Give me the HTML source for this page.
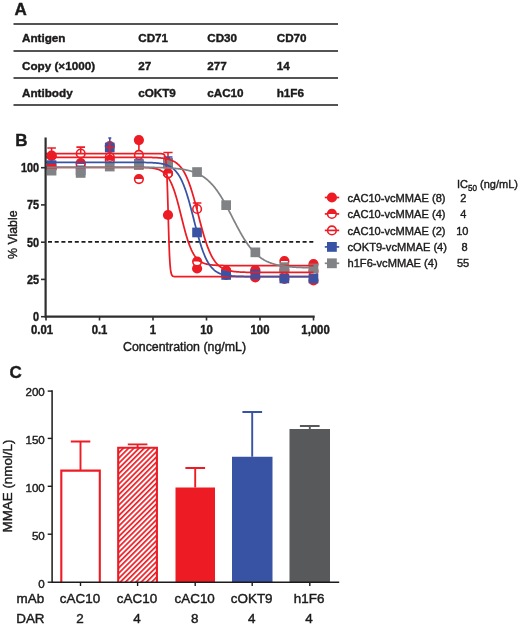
<!DOCTYPE html><html><head><meta charset="utf-8"><title>Figure</title><style>html,body{margin:0;padding:0;background:#fff}svg{display:block}text{font-family:"Liberation Sans",Arial,Helvetica,sans-serif;fill:#1c1a1b}.b{font-weight:bold;stroke:#1c1a1b;stroke-width:.4px}.r{stroke:#1c1a1b;stroke-width:.4px}</style></head><body>
<svg width="520" height="626" viewBox="0 0 520 626">
<rect width="520" height="626" fill="#fff"/>
<defs><pattern id="h" width="3.7" height="3.7" patternUnits="userSpaceOnUse" patternTransform="rotate(-45)"><rect width="3.7" height="3.7" fill="#fff"/><rect y="0" width="3.7" height="1.7" fill="#ED1C24"/></pattern></defs>
<text class="b" x="14.5" y="14.7" font-size="17">A</text>
<line x1="13.5" x2="338" y1="24" y2="24" stroke="#1c1a1b" stroke-width="1.7"/>
<line x1="13.5" x2="338" y1="51" y2="51" stroke="#1c1a1b" stroke-width="1.6"/>
<line x1="13.5" x2="338" y1="78" y2="78" stroke="#1c1a1b" stroke-width="1.6"/>
<line x1="13.5" x2="338" y1="105" y2="105" stroke="#1c1a1b" stroke-width="1.7"/>
<text class="b" x="22" y="42" font-size="11.7">Antigen</text>
<text class="b" x="138.2" y="42" font-size="11.7">CD71</text>
<text class="b" x="207.2" y="42" font-size="11.7">CD30</text>
<text class="b" x="276.7" y="42" font-size="11.7">CD70</text>
<text class="b" x="22" y="69.5" font-size="11.7">Copy (×1000)</text>
<text class="b" x="138.2" y="69.5" font-size="11.7">27</text>
<text class="b" x="207.2" y="69.5" font-size="11.7">277</text>
<text class="b" x="276.7" y="69.5" font-size="11.7">14</text>
<text class="b" x="22" y="96.5" font-size="11.7">Antibody</text>
<text class="b" x="138.2" y="96.5" font-size="11.7">cOKT9</text>
<text class="b" x="207.2" y="96.5" font-size="11.7">cAC10</text>
<text class="b" x="276.7" y="96.5" font-size="11.7">h1F6</text>
<text class="b" x="15.2" y="146.2" font-size="17">B</text>
<line x1="48" x2="314" y1="241.9" y2="241.9" stroke="#1c1a1b" stroke-width="1.8" stroke-dasharray="4 2.7"/>
<circle cx="51.6" cy="155.5" r="5.1" fill="#ED1C24"/>
<circle cx="80.7" cy="163.0" r="5.1" fill="#ED1C24"/>
<circle cx="109.8" cy="146.0" r="5.1" fill="#ED1C24"/>
<circle cx="138.9" cy="140.1" r="5.1" fill="#ED1C24"/>
<circle cx="168.0" cy="215.0" r="5.1" fill="#ED1C24"/>
<circle cx="197.1" cy="268.5" r="5.1" fill="#ED1C24"/>
<circle cx="226.2" cy="275.0" r="5.1" fill="#ED1C24"/>
<circle cx="255.3" cy="277.5" r="5.1" fill="#ED1C24"/>
<circle cx="284.4" cy="279.0" r="5.1" fill="#ED1C24"/>
<circle cx="313.5" cy="280.4" r="5.1" fill="#ED1C24"/>
<circle cx="51.6" cy="168.3" r="4.3" fill="#fff" stroke="#ED1C24" stroke-width="1.6"/>
<path d="M47.3,168.3 a4.3,4.3 0 0 1 8.6,0 z" fill="#ED1C24"/>
<circle cx="80.7" cy="164.0" r="4.3" fill="#fff" stroke="#ED1C24" stroke-width="1.6"/>
<path d="M76.4,164.0 a4.3,4.3 0 0 1 8.6,0 z" fill="#ED1C24"/>
<circle cx="109.8" cy="159.9" r="4.3" fill="#fff" stroke="#ED1C24" stroke-width="1.6"/>
<path d="M105.5,159.9 a4.3,4.3 0 0 1 8.6,0 z" fill="#ED1C24"/>
<circle cx="138.9" cy="179.1" r="4.3" fill="#fff" stroke="#ED1C24" stroke-width="1.6"/>
<path d="M134.6,179.1 a4.3,4.3 0 0 1 8.6,0 z" fill="#ED1C24"/>
<circle cx="168.0" cy="173.4" r="4.3" fill="#fff" stroke="#ED1C24" stroke-width="1.6"/>
<path d="M163.7,173.4 a4.3,4.3 0 0 1 8.6,0 z" fill="#ED1C24"/>
<circle cx="197.1" cy="261.6" r="4.3" fill="#fff" stroke="#ED1C24" stroke-width="1.6"/>
<path d="M192.8,261.6 a4.3,4.3 0 0 1 8.6,0 z" fill="#ED1C24"/>
<circle cx="226.2" cy="270.5" r="4.3" fill="#fff" stroke="#ED1C24" stroke-width="1.6"/>
<path d="M221.9,270.5 a4.3,4.3 0 0 1 8.6,0 z" fill="#ED1C24"/>
<circle cx="255.3" cy="270.0" r="4.3" fill="#fff" stroke="#ED1C24" stroke-width="1.6"/>
<path d="M251.0,270.0 a4.3,4.3 0 0 1 8.6,0 z" fill="#ED1C24"/>
<circle cx="284.4" cy="261.0" r="4.3" fill="#fff" stroke="#ED1C24" stroke-width="1.6"/>
<path d="M280.1,261.0 a4.3,4.3 0 0 1 8.6,0 z" fill="#ED1C24"/>
<circle cx="313.5" cy="264.0" r="4.3" fill="#fff" stroke="#ED1C24" stroke-width="1.6"/>
<path d="M309.2,264.0 a4.3,4.3 0 0 1 8.6,0 z" fill="#ED1C24"/>
<circle cx="51.6" cy="156.0" r="4.3" fill="none" stroke="#ED1C24" stroke-width="1.6"/>
<circle cx="80.7" cy="153.5" r="4.3" fill="none" stroke="#ED1C24" stroke-width="1.6"/>
<circle cx="109.8" cy="157.0" r="4.3" fill="none" stroke="#ED1C24" stroke-width="1.6"/>
<circle cx="138.9" cy="154.9" r="4.3" fill="none" stroke="#ED1C24" stroke-width="1.6"/>
<circle cx="168.0" cy="173.4" r="4.3" fill="none" stroke="#ED1C24" stroke-width="1.6"/>
<circle cx="197.1" cy="209.0" r="4.3" fill="none" stroke="#ED1C24" stroke-width="1.6"/>
<circle cx="226.2" cy="271.0" r="4.3" fill="none" stroke="#ED1C24" stroke-width="1.6"/>
<circle cx="255.3" cy="272.0" r="4.3" fill="none" stroke="#ED1C24" stroke-width="1.6"/>
<circle cx="284.4" cy="270.0" r="4.3" fill="none" stroke="#ED1C24" stroke-width="1.6"/>
<circle cx="313.5" cy="271.0" r="4.3" fill="none" stroke="#ED1C24" stroke-width="1.6"/>
<path d="M109.8,147.5 V138.0 M108.3,138.0 H111.3" stroke="#3953A4" stroke-width="1.6" fill="none"/>
<path d="M168.0,163.0 V157.0 M163.5,157.0 H172.5" stroke="#3953A4" stroke-width="1.6" fill="none"/>
<rect x="46.7" y="160.3" width="9.7" height="9.7" fill="#3953A4"/>
<rect x="75.8" y="165.5" width="9.7" height="9.7" fill="#3953A4"/>
<rect x="104.9" y="142.7" width="9.7" height="9.7" fill="#3953A4"/>
<rect x="134.0" y="159.2" width="9.7" height="9.7" fill="#3953A4"/>
<rect x="163.2" y="158.2" width="9.7" height="9.7" fill="#3953A4"/>
<rect x="192.2" y="227.6" width="9.7" height="9.7" fill="#3953A4"/>
<rect x="221.3" y="270.1" width="9.7" height="9.7" fill="#3953A4"/>
<rect x="250.5" y="269.6" width="9.7" height="9.7" fill="#3953A4"/>
<rect x="279.5" y="273.6" width="9.7" height="9.7" fill="#3953A4"/>
<rect x="308.6" y="273.6" width="9.7" height="9.7" fill="#3953A4"/>
<rect x="46.7" y="165.8" width="9.7" height="9.7" fill="#808285"/>
<rect x="75.8" y="168.1" width="9.7" height="9.7" fill="#808285"/>
<rect x="104.9" y="161.7" width="9.7" height="9.7" fill="#808285"/>
<rect x="134.0" y="160.2" width="9.7" height="9.7" fill="#808285"/>
<rect x="163.2" y="158.8" width="9.7" height="9.7" fill="#808285"/>
<rect x="192.2" y="167.2" width="9.7" height="9.7" fill="#808285"/>
<rect x="221.3" y="200.3" width="9.7" height="9.7" fill="#808285"/>
<rect x="250.5" y="247.5" width="9.7" height="9.7" fill="#808285"/>
<rect x="279.5" y="262.3" width="9.7" height="9.7" fill="#808285"/>
<rect x="308.6" y="263.6" width="9.7" height="9.7" fill="#808285"/>
<rect x="46.9" y="163.8" width="9.4" height="4.6" fill="#ED1C24"/>
<path d="M51.6,155.5 V148.0 M47.3,148.0 H55.9" stroke="#ED1C24" stroke-width="1.6" fill="none"/>
<path d="M80.7,153.5 V147.1 M76.4,147.1 H85.0" stroke="#ED1C24" stroke-width="1.6" fill="none"/>
<path d="M197.1,209.0 V203.0 M192.8,203.0 H201.4" stroke="#ED1C24" stroke-width="1.6" fill="none"/>
<path d="M168.0,158.0 V152.5 M163.4,152.5 H172.6" stroke="#ED1C24" stroke-width="1.6" fill="none"/>
<line x1="138.9" x2="138.9" y1="145" y2="151" stroke="#ED1C24" stroke-width="1.6"/>
<path d="M109.8,143 V157 M105.5,147.5 H114.1" stroke="#ED1C24" stroke-width="1.6" fill="none"/>
<line x1="168.0" x2="168.0" y1="157" y2="159.5" stroke="#3953A4" stroke-width="4"/>
<polyline fill="none" stroke="#ED1C24" stroke-width="1.75" stroke-linejoin="round" points="46.0,153.69 46.5,153.69 47.0,153.69 47.5,153.69 48.0,153.69 48.5,153.69 49.0,153.69 49.5,153.69 50.0,153.69 50.5,153.69 51.0,153.69 51.5,153.69 52.0,153.69 52.5,153.69 53.0,153.69 53.5,153.69 54.0,153.69 54.5,153.69 55.0,153.69 55.5,153.69 56.0,153.69 56.5,153.69 57.0,153.69 57.5,153.69 58.0,153.69 58.5,153.69 59.0,153.69 59.5,153.69 60.0,153.69 60.5,153.69 61.0,153.69 61.5,153.69 62.0,153.69 62.5,153.69 63.0,153.69 63.5,153.69 64.0,153.69 64.5,153.69 65.0,153.69 65.5,153.69 66.0,153.69 66.5,153.69 67.0,153.69 67.5,153.69 68.0,153.69 68.5,153.69 69.0,153.69 69.5,153.69 70.0,153.69 70.5,153.69 71.0,153.69 71.5,153.69 72.0,153.69 72.5,153.69 73.0,153.69 73.5,153.69 74.0,153.69 74.5,153.69 75.0,153.69 75.5,153.69 76.0,153.69 76.5,153.69 77.0,153.69 77.5,153.69 78.0,153.69 78.5,153.69 79.0,153.69 79.5,153.69 80.0,153.69 80.5,153.69 81.0,153.69 81.5,153.69 82.0,153.69 82.5,153.69 83.0,153.69 83.5,153.69 84.0,153.69 84.5,153.69 85.0,153.69 85.5,153.69 86.0,153.69 86.5,153.69 87.0,153.69 87.5,153.69 88.0,153.69 88.5,153.69 89.0,153.69 89.5,153.69 90.0,153.69 90.5,153.69 91.0,153.69 91.5,153.69 92.0,153.69 92.5,153.69 93.0,153.69 93.5,153.69 94.0,153.69 94.5,153.69 95.0,153.69 95.5,153.69 96.0,153.69 96.5,153.69 97.0,153.69 97.5,153.69 98.0,153.69 98.5,153.69 99.0,153.69 99.5,153.69 100.0,153.69 100.5,153.69 101.0,153.69 101.5,153.69 102.0,153.69 102.5,153.69 103.0,153.69 103.5,153.69 104.0,153.69 104.5,153.69 105.0,153.69 105.5,153.69 106.0,153.69 106.5,153.69 107.0,153.69 107.5,153.69 108.0,153.69 108.5,153.69 109.0,153.69 109.5,153.69 110.0,153.69 110.5,153.69 111.0,153.69 111.5,153.69 112.0,153.69 112.5,153.69 113.0,153.69 113.5,153.69 114.0,153.69 114.5,153.69 115.0,153.69 115.5,153.69 116.0,153.69 116.5,153.69 117.0,153.69 117.5,153.69 118.0,153.69 118.5,153.69 119.0,153.69 119.5,153.69 120.0,153.69 120.5,153.69 121.0,153.69 121.5,153.69 122.0,153.69 122.5,153.69 123.0,153.69 123.5,153.69 124.0,153.69 124.5,153.69 125.0,153.69 125.5,153.69 126.0,153.69 126.5,153.69 127.0,153.69 127.5,153.69 128.0,153.69 128.5,153.69 129.0,153.69 129.5,153.69 130.0,153.69 130.5,153.69 131.0,153.69 131.5,153.69 132.0,153.69 132.5,153.69 133.0,153.69 133.5,153.69 134.0,153.69 134.5,153.69 135.0,153.69 135.5,153.69 136.0,153.69 136.5,153.69 137.0,153.69 137.5,153.69 138.0,153.69 138.5,153.69 139.0,153.69 139.5,153.69 140.0,153.69 140.5,153.69 141.0,153.69 141.5,153.69 142.0,153.69 142.5,153.69 143.0,153.69 143.5,153.69 144.0,153.69 144.5,153.69 145.0,153.69 145.5,153.69 146.0,153.69 146.5,153.69 147.0,153.69 147.5,153.69 148.0,153.69 148.5,153.69 149.0,153.69 149.5,153.69 150.0,153.69 150.5,153.69 151.0,153.69 151.5,153.69 152.0,153.69 152.5,153.69 153.0,153.69 153.5,153.69 154.0,153.69 154.5,153.69 155.0,153.69 155.5,153.69 156.0,153.69 156.5,153.69 157.0,153.69 157.5,153.69 158.0,153.69 158.5,153.70 159.0,153.70 159.5,153.70 160.0,153.70 160.5,153.71 161.0,153.71 161.5,153.73 162.0,153.76 162.5,153.82 163.0,153.93 163.5,154.12 164.0,154.47 164.5,155.10 165.0,156.24 165.5,158.27 166.0,161.80 166.5,167.73 167.0,177.12 167.5,190.67 168.0,207.79 168.5,226.15 169.0,242.68 169.5,255.39 170.0,264.01 170.5,269.38 171.0,272.55 171.5,274.36 172.0,275.37 172.5,275.93 173.0,276.24 173.5,276.41 174.0,276.51 174.5,276.56 175.0,276.59 175.5,276.60 176.0,276.61 176.5,276.61 177.0,276.62 177.5,276.62 178.0,276.62 178.5,276.62 179.0,276.62 179.5,276.62 180.0,276.62 180.5,276.62 181.0,276.62 181.5,276.62 182.0,276.62 182.5,276.62 183.0,276.62 183.5,276.62 184.0,276.62 184.5,276.62 185.0,276.62 185.5,276.62 186.0,276.62 186.5,276.62 187.0,276.62 187.5,276.62 188.0,276.62 188.5,276.62 189.0,276.62 189.5,276.62 190.0,276.62 190.5,276.62 191.0,276.62 191.5,276.62 192.0,276.62 192.5,276.62 193.0,276.62 193.5,276.62 194.0,276.62 194.5,276.62 195.0,276.62 195.5,276.62 196.0,276.62 196.5,276.62 197.0,276.62 197.5,276.62 198.0,276.62 198.5,276.62 199.0,276.62 199.5,276.62 200.0,276.62 200.5,276.62 201.0,276.62 201.5,276.62 202.0,276.62 202.5,276.62 203.0,276.62 203.5,276.62 204.0,276.62 204.5,276.62 205.0,276.62 205.5,276.62 206.0,276.62 206.5,276.62 207.0,276.62 207.5,276.62 208.0,276.62 208.5,276.62 209.0,276.62 209.5,276.62 210.0,276.62 210.5,276.62 211.0,276.62 211.5,276.62 212.0,276.62 212.5,276.62 213.0,276.62 213.5,276.62 214.0,276.62 214.5,276.62 215.0,276.62 215.5,276.62 216.0,276.62 216.5,276.62 217.0,276.62 217.5,276.62 218.0,276.62 218.5,276.62 219.0,276.62 219.5,276.62 220.0,276.62 220.5,276.62 221.0,276.62 221.5,276.62 222.0,276.62 222.5,276.62 223.0,276.62 223.5,276.62 224.0,276.62 224.5,276.62 225.0,276.62 225.5,276.62 226.0,276.62 226.5,276.62 227.0,276.62 227.5,276.62 228.0,276.62 228.5,276.62 229.0,276.62 229.5,276.62 230.0,276.62 230.5,276.62 231.0,276.62 231.5,276.62 232.0,276.62 232.5,276.62 233.0,276.62 233.5,276.62 234.0,276.62 234.5,276.62 235.0,276.62 235.5,276.62 236.0,276.62 236.5,276.62 237.0,276.62 237.5,276.62 238.0,276.62 238.5,276.62 239.0,276.62 239.5,276.62 240.0,276.62 240.5,276.62 241.0,276.62 241.5,276.62 242.0,276.62 242.5,276.62 243.0,276.62 243.5,276.62 244.0,276.62 244.5,276.62 245.0,276.62 245.5,276.62 246.0,276.62 246.5,276.62 247.0,276.62 247.5,276.62 248.0,276.62 248.5,276.62 249.0,276.62 249.5,276.62 250.0,276.62 250.5,276.62 251.0,276.62 251.5,276.62 252.0,276.62 252.5,276.62 253.0,276.62 253.5,276.62 254.0,276.62 254.5,276.62 255.0,276.62 255.5,276.62 256.0,276.62 256.5,276.62 257.0,276.62 257.5,276.62 258.0,276.62 258.5,276.62 259.0,276.62 259.5,276.62 260.0,276.62 260.5,276.62 261.0,276.62 261.5,276.62 262.0,276.62 262.5,276.62 263.0,276.62 263.5,276.62 264.0,276.62 264.5,276.62 265.0,276.62 265.5,276.62 266.0,276.62 266.5,276.62 267.0,276.62 267.5,276.62 268.0,276.62 268.5,276.62 269.0,276.62 269.5,276.62 270.0,276.62 270.5,276.62 271.0,276.62 271.5,276.62 272.0,276.62 272.5,276.62 273.0,276.62 273.5,276.62 274.0,276.62 274.5,276.62 275.0,276.62 275.5,276.62 276.0,276.62 276.5,276.62 277.0,276.62 277.5,276.62 278.0,276.62 278.5,276.62 279.0,276.62 279.5,276.62 280.0,276.62 280.5,276.62 281.0,276.62 281.5,276.62 282.0,276.62 282.5,276.62 283.0,276.62 283.5,276.62 284.0,276.62 284.5,276.62 285.0,276.62 285.5,276.62 286.0,276.62 286.5,276.62 287.0,276.62 287.5,276.62 288.0,276.62 288.5,276.62 289.0,276.62 289.5,276.62 290.0,276.62 290.5,276.62 291.0,276.62 291.5,276.62 292.0,276.62 292.5,276.62 293.0,276.62 293.5,276.62 294.0,276.62 294.5,276.62 295.0,276.62 295.5,276.62 296.0,276.62 296.5,276.62 297.0,276.62 297.5,276.62 298.0,276.62 298.5,276.62 299.0,276.62 299.5,276.62 300.0,276.62 300.5,276.62 301.0,276.62 301.5,276.62 302.0,276.62 302.5,276.62 303.0,276.62 303.5,276.62 304.0,276.62 304.5,276.62 305.0,276.62 305.5,276.62 306.0,276.62 306.5,276.62 307.0,276.62 307.5,276.62 308.0,276.62 308.5,276.62 309.0,276.62 309.5,276.62 310.0,276.62 310.5,276.62 311.0,276.62 311.5,276.62 312.0,276.62 312.5,276.62 313.0,276.62 313.5,276.62"/>
<polyline fill="none" stroke="#ED1C24" stroke-width="1.75" stroke-linejoin="round" points="46.0,167.25 46.5,167.25 47.0,167.25 47.5,167.25 48.0,167.25 48.5,167.25 49.0,167.25 49.5,167.25 50.0,167.25 50.5,167.25 51.0,167.25 51.5,167.25 52.0,167.25 52.5,167.25 53.0,167.25 53.5,167.25 54.0,167.25 54.5,167.25 55.0,167.25 55.5,167.25 56.0,167.25 56.5,167.25 57.0,167.25 57.5,167.25 58.0,167.25 58.5,167.25 59.0,167.25 59.5,167.25 60.0,167.25 60.5,167.25 61.0,167.25 61.5,167.25 62.0,167.25 62.5,167.25 63.0,167.25 63.5,167.25 64.0,167.25 64.5,167.25 65.0,167.25 65.5,167.25 66.0,167.25 66.5,167.25 67.0,167.25 67.5,167.25 68.0,167.25 68.5,167.25 69.0,167.25 69.5,167.25 70.0,167.25 70.5,167.25 71.0,167.25 71.5,167.25 72.0,167.25 72.5,167.25 73.0,167.25 73.5,167.25 74.0,167.25 74.5,167.25 75.0,167.25 75.5,167.25 76.0,167.25 76.5,167.25 77.0,167.25 77.5,167.25 78.0,167.25 78.5,167.25 79.0,167.25 79.5,167.25 80.0,167.25 80.5,167.25 81.0,167.25 81.5,167.25 82.0,167.25 82.5,167.25 83.0,167.25 83.5,167.25 84.0,167.25 84.5,167.25 85.0,167.25 85.5,167.25 86.0,167.25 86.5,167.25 87.0,167.25 87.5,167.25 88.0,167.25 88.5,167.25 89.0,167.25 89.5,167.25 90.0,167.25 90.5,167.25 91.0,167.25 91.5,167.25 92.0,167.25 92.5,167.25 93.0,167.25 93.5,167.25 94.0,167.25 94.5,167.25 95.0,167.25 95.5,167.25 96.0,167.25 96.5,167.25 97.0,167.25 97.5,167.25 98.0,167.25 98.5,167.25 99.0,167.25 99.5,167.25 100.0,167.25 100.5,167.25 101.0,167.25 101.5,167.25 102.0,167.25 102.5,167.25 103.0,167.25 103.5,167.25 104.0,167.25 104.5,167.25 105.0,167.25 105.5,167.25 106.0,167.25 106.5,167.25 107.0,167.25 107.5,167.25 108.0,167.25 108.5,167.25 109.0,167.25 109.5,167.25 110.0,167.25 110.5,167.25 111.0,167.25 111.5,167.25 112.0,167.25 112.5,167.25 113.0,167.25 113.5,167.25 114.0,167.25 114.5,167.25 115.0,167.25 115.5,167.26 116.0,167.26 116.5,167.26 117.0,167.26 117.5,167.26 118.0,167.26 118.5,167.26 119.0,167.26 119.5,167.26 120.0,167.26 120.5,167.26 121.0,167.26 121.5,167.26 122.0,167.26 122.5,167.26 123.0,167.26 123.5,167.26 124.0,167.26 124.5,167.26 125.0,167.26 125.5,167.26 126.0,167.26 126.5,167.27 127.0,167.27 127.5,167.27 128.0,167.27 128.5,167.27 129.0,167.27 129.5,167.27 130.0,167.27 130.5,167.28 131.0,167.28 131.5,167.28 132.0,167.28 132.5,167.29 133.0,167.29 133.5,167.29 134.0,167.30 134.5,167.30 135.0,167.30 135.5,167.31 136.0,167.31 136.5,167.32 137.0,167.32 137.5,167.33 138.0,167.33 138.5,167.34 139.0,167.35 139.5,167.36 140.0,167.37 140.5,167.38 141.0,167.39 141.5,167.40 142.0,167.41 142.5,167.42 143.0,167.44 143.5,167.45 144.0,167.47 144.5,167.49 145.0,167.51 145.5,167.53 146.0,167.55 146.5,167.58 147.0,167.61 147.5,167.64 148.0,167.67 148.5,167.70 149.0,167.74 149.5,167.78 150.0,167.83 150.5,167.88 151.0,167.93 151.5,167.99 152.0,168.05 152.5,168.12 153.0,168.19 153.5,168.27 154.0,168.36 154.5,168.45 155.0,168.55 155.5,168.66 156.0,168.78 156.5,168.91 157.0,169.05 157.5,169.20 158.0,169.36 158.5,169.54 159.0,169.73 159.5,169.93 160.0,170.16 160.5,170.40 161.0,170.66 161.5,170.94 162.0,171.24 162.5,171.56 163.0,171.91 163.5,172.29 164.0,172.70 164.5,173.14 165.0,173.61 165.5,174.11 166.0,174.65 166.5,175.23 167.0,175.86 167.5,176.52 168.0,177.23 168.5,177.99 169.0,178.80 169.5,179.66 170.0,180.58 170.5,181.55 171.0,182.59 171.5,183.68 172.0,184.83 172.5,186.04 173.0,187.32 173.5,188.66 174.0,190.07 174.5,191.54 175.0,193.07 175.5,194.66 176.0,196.31 176.5,198.01 177.0,199.77 177.5,201.58 178.0,203.43 178.5,205.33 179.0,207.26 179.5,209.22 180.0,211.20 180.5,213.20 181.0,215.21 181.5,217.23 182.0,219.24 182.5,221.25 183.0,223.23 183.5,225.20 184.0,227.13 184.5,229.04 185.0,230.90 185.5,232.72 186.0,234.49 186.5,236.20 187.0,237.86 187.5,239.47 188.0,241.01 188.5,242.49 189.0,243.91 189.5,245.26 190.0,246.55 190.5,247.78 191.0,248.94 191.5,250.05 192.0,251.09 192.5,252.08 193.0,253.00 193.5,253.88 194.0,254.70 194.5,255.47 195.0,256.19 195.5,256.86 196.0,257.49 196.5,258.08 197.0,258.63 197.5,259.14 198.0,259.62 198.5,260.06 199.0,260.48 199.5,260.86 200.0,261.22 200.5,261.55 201.0,261.85 201.5,262.14 202.0,262.40 202.5,262.64 203.0,262.87 203.5,263.08 204.0,263.27 204.5,263.45 205.0,263.62 205.5,263.77 206.0,263.91 206.5,264.04 207.0,264.16 207.5,264.27 208.0,264.37 208.5,264.47 209.0,264.56 209.5,264.64 210.0,264.71 210.5,264.78 211.0,264.84 211.5,264.90 212.0,264.96 212.5,265.01 213.0,265.05 213.5,265.09 214.0,265.13 214.5,265.17 215.0,265.20 215.5,265.23 216.0,265.26 216.5,265.29 217.0,265.31 217.5,265.33 218.0,265.35 218.5,265.37 219.0,265.39 219.5,265.41 220.0,265.42 220.5,265.43 221.0,265.45 221.5,265.46 222.0,265.47 222.5,265.48 223.0,265.49 223.5,265.50 224.0,265.50 224.5,265.51 225.0,265.52 225.5,265.52 226.0,265.53 226.5,265.53 227.0,265.54 227.5,265.54 228.0,265.55 228.5,265.55 229.0,265.55 229.5,265.56 230.0,265.56 230.5,265.56 231.0,265.56 231.5,265.57 232.0,265.57 232.5,265.57 233.0,265.57 233.5,265.57 234.0,265.58 234.5,265.58 235.0,265.58 235.5,265.58 236.0,265.58 236.5,265.58 237.0,265.58 237.5,265.58 238.0,265.58 238.5,265.58 239.0,265.59 239.5,265.59 240.0,265.59 240.5,265.59 241.0,265.59 241.5,265.59 242.0,265.59 242.5,265.59 243.0,265.59 243.5,265.59 244.0,265.59 244.5,265.59 245.0,265.59 245.5,265.59 246.0,265.59 246.5,265.59 247.0,265.59 247.5,265.59 248.0,265.59 248.5,265.59 249.0,265.59 249.5,265.59 250.0,265.59 250.5,265.59 251.0,265.59 251.5,265.59 252.0,265.59 252.5,265.59 253.0,265.59 253.5,265.59 254.0,265.59 254.5,265.59 255.0,265.59 255.5,265.59 256.0,265.59 256.5,265.59 257.0,265.59 257.5,265.59 258.0,265.59 258.5,265.59 259.0,265.59 259.5,265.59 260.0,265.59 260.5,265.59 261.0,265.59 261.5,265.59 262.0,265.59 262.5,265.59 263.0,265.59 263.5,265.59 264.0,265.59 264.5,265.59 265.0,265.59 265.5,265.59 266.0,265.59 266.5,265.59 267.0,265.59 267.5,265.59 268.0,265.59 268.5,265.59 269.0,265.59 269.5,265.59 270.0,265.59 270.5,265.59 271.0,265.59 271.5,265.59 272.0,265.59 272.5,265.59 273.0,265.59 273.5,265.59 274.0,265.59 274.5,265.59 275.0,265.59 275.5,265.59 276.0,265.59 276.5,265.59 277.0,265.59 277.5,265.59 278.0,265.59 278.5,265.59 279.0,265.59 279.5,265.59 280.0,265.59 280.5,265.59 281.0,265.59 281.5,265.59 282.0,265.59 282.5,265.59 283.0,265.59 283.5,265.59 284.0,265.59 284.5,265.59 285.0,265.59 285.5,265.59 286.0,265.59 286.5,265.59 287.0,265.59 287.5,265.59 288.0,265.59 288.5,265.59 289.0,265.59 289.5,265.59 290.0,265.59 290.5,265.59 291.0,265.59 291.5,265.59 292.0,265.59 292.5,265.59 293.0,265.59 293.5,265.59 294.0,265.59 294.5,265.59 295.0,265.59 295.5,265.59 296.0,265.59 296.5,265.59 297.0,265.59 297.5,265.59 298.0,265.59 298.5,265.59 299.0,265.59 299.5,265.59 300.0,265.59 300.5,265.59 301.0,265.59 301.5,265.59 302.0,265.59 302.5,265.59 303.0,265.59 303.5,265.59 304.0,265.59 304.5,265.59 305.0,265.59 305.5,265.59 306.0,265.59 306.5,265.59 307.0,265.59 307.5,265.59 308.0,265.59 308.5,265.59 309.0,265.59 309.5,265.59 310.0,265.59 310.5,265.59 311.0,265.59 311.5,265.59 312.0,265.59 312.5,265.59 313.0,265.59 313.5,265.59"/>
<polyline fill="none" stroke="#ED1C24" stroke-width="1.75" stroke-linejoin="round" points="46.0,157.27 46.5,157.27 47.0,157.27 47.5,157.27 48.0,157.27 48.5,157.27 49.0,157.27 49.5,157.27 50.0,157.27 50.5,157.27 51.0,157.27 51.5,157.27 52.0,157.27 52.5,157.27 53.0,157.27 53.5,157.27 54.0,157.27 54.5,157.27 55.0,157.27 55.5,157.27 56.0,157.27 56.5,157.27 57.0,157.27 57.5,157.27 58.0,157.27 58.5,157.27 59.0,157.27 59.5,157.27 60.0,157.27 60.5,157.27 61.0,157.27 61.5,157.27 62.0,157.27 62.5,157.27 63.0,157.27 63.5,157.27 64.0,157.27 64.5,157.27 65.0,157.27 65.5,157.27 66.0,157.27 66.5,157.27 67.0,157.27 67.5,157.27 68.0,157.27 68.5,157.27 69.0,157.27 69.5,157.27 70.0,157.27 70.5,157.27 71.0,157.27 71.5,157.27 72.0,157.27 72.5,157.27 73.0,157.27 73.5,157.27 74.0,157.27 74.5,157.27 75.0,157.27 75.5,157.27 76.0,157.27 76.5,157.27 77.0,157.27 77.5,157.27 78.0,157.27 78.5,157.27 79.0,157.27 79.5,157.27 80.0,157.27 80.5,157.27 81.0,157.27 81.5,157.27 82.0,157.27 82.5,157.27 83.0,157.27 83.5,157.27 84.0,157.27 84.5,157.27 85.0,157.27 85.5,157.27 86.0,157.27 86.5,157.27 87.0,157.27 87.5,157.27 88.0,157.27 88.5,157.27 89.0,157.27 89.5,157.27 90.0,157.27 90.5,157.27 91.0,157.27 91.5,157.27 92.0,157.27 92.5,157.27 93.0,157.27 93.5,157.27 94.0,157.27 94.5,157.27 95.0,157.27 95.5,157.27 96.0,157.27 96.5,157.27 97.0,157.27 97.5,157.27 98.0,157.27 98.5,157.27 99.0,157.27 99.5,157.27 100.0,157.27 100.5,157.27 101.0,157.27 101.5,157.27 102.0,157.27 102.5,157.27 103.0,157.27 103.5,157.27 104.0,157.27 104.5,157.27 105.0,157.27 105.5,157.27 106.0,157.27 106.5,157.27 107.0,157.27 107.5,157.27 108.0,157.27 108.5,157.27 109.0,157.27 109.5,157.27 110.0,157.27 110.5,157.27 111.0,157.27 111.5,157.27 112.0,157.27 112.5,157.27 113.0,157.27 113.5,157.27 114.0,157.27 114.5,157.27 115.0,157.27 115.5,157.27 116.0,157.27 116.5,157.27 117.0,157.27 117.5,157.27 118.0,157.27 118.5,157.27 119.0,157.27 119.5,157.27 120.0,157.27 120.5,157.27 121.0,157.27 121.5,157.27 122.0,157.27 122.5,157.27 123.0,157.27 123.5,157.27 124.0,157.28 124.5,157.28 125.0,157.28 125.5,157.28 126.0,157.28 126.5,157.28 127.0,157.28 127.5,157.28 128.0,157.28 128.5,157.28 129.0,157.28 129.5,157.28 130.0,157.28 130.5,157.28 131.0,157.28 131.5,157.28 132.0,157.29 132.5,157.29 133.0,157.29 133.5,157.29 134.0,157.29 134.5,157.29 135.0,157.29 135.5,157.29 136.0,157.30 136.5,157.30 137.0,157.30 137.5,157.30 138.0,157.30 138.5,157.31 139.0,157.31 139.5,157.31 140.0,157.31 140.5,157.32 141.0,157.32 141.5,157.32 142.0,157.33 142.5,157.33 143.0,157.34 143.5,157.34 144.0,157.35 144.5,157.35 145.0,157.36 145.5,157.36 146.0,157.37 146.5,157.38 147.0,157.38 147.5,157.39 148.0,157.40 148.5,157.41 149.0,157.42 149.5,157.43 150.0,157.44 150.5,157.45 151.0,157.47 151.5,157.48 152.0,157.49 152.5,157.51 153.0,157.53 153.5,157.54 154.0,157.56 154.5,157.58 155.0,157.61 155.5,157.63 156.0,157.65 156.5,157.68 157.0,157.71 157.5,157.74 158.0,157.77 158.5,157.81 159.0,157.85 159.5,157.89 160.0,157.93 160.5,157.97 161.0,158.02 161.5,158.07 162.0,158.13 162.5,158.19 163.0,158.25 163.5,158.32 164.0,158.39 164.5,158.47 165.0,158.55 165.5,158.64 166.0,158.74 166.5,158.84 167.0,158.94 167.5,159.06 168.0,159.18 168.5,159.31 169.0,159.45 169.5,159.60 170.0,159.76 170.5,159.93 171.0,160.11 171.5,160.30 172.0,160.51 172.5,160.73 173.0,160.96 173.5,161.21 174.0,161.47 174.5,161.75 175.0,162.05 175.5,162.37 176.0,162.71 176.5,163.07 177.0,163.45 177.5,163.86 178.0,164.29 178.5,164.75 179.0,165.23 179.5,165.75 180.0,166.29 180.5,166.87 181.0,167.48 181.5,168.12 182.0,168.80 182.5,169.52 183.0,170.28 183.5,171.08 184.0,171.91 184.5,172.80 185.0,173.73 185.5,174.70 186.0,175.72 186.5,176.79 187.0,177.90 187.5,179.07 188.0,180.28 188.5,181.55 189.0,182.86 189.5,184.23 190.0,185.65 190.5,187.11 191.0,188.62 191.5,190.18 192.0,191.79 192.5,193.44 193.0,195.13 193.5,196.86 194.0,198.63 194.5,200.43 195.0,202.26 195.5,204.12 196.0,206.01 196.5,207.91 197.0,209.83 197.5,211.76 198.0,213.69 198.5,215.63 199.0,217.57 199.5,219.50 200.0,221.42 200.5,223.33 201.0,225.22 201.5,227.08 202.0,228.92 202.5,230.73 203.0,232.50 203.5,234.24 204.0,235.94 204.5,237.60 205.0,239.22 205.5,240.79 206.0,242.31 206.5,243.78 207.0,245.21 207.5,246.58 208.0,247.91 208.5,249.19 209.0,250.41 209.5,251.59 210.0,252.71 210.5,253.79 211.0,254.82 211.5,255.80 212.0,256.74 212.5,257.63 213.0,258.48 213.5,259.28 214.0,260.05 214.5,260.77 215.0,261.46 215.5,262.11 216.0,262.73 216.5,263.31 217.0,263.86 217.5,264.38 218.0,264.87 218.5,265.34 219.0,265.77 219.5,266.18 220.0,266.57 220.5,266.94 221.0,267.28 221.5,267.60 222.0,267.90 222.5,268.19 223.0,268.46 223.5,268.71 224.0,268.94 224.5,269.17 225.0,269.37 225.5,269.57 226.0,269.75 226.5,269.92 227.0,270.08 227.5,270.24 228.0,270.38 228.5,270.51 229.0,270.63 229.5,270.75 230.0,270.86 230.5,270.96 231.0,271.06 231.5,271.15 232.0,271.23 232.5,271.31 233.0,271.38 233.5,271.45 234.0,271.52 234.5,271.58 235.0,271.63 235.5,271.68 236.0,271.73 236.5,271.78 237.0,271.82 237.5,271.86 238.0,271.90 238.5,271.94 239.0,271.97 239.5,272.00 240.0,272.03 240.5,272.06 241.0,272.08 241.5,272.11 242.0,272.13 242.5,272.15 243.0,272.17 243.5,272.19 244.0,272.20 244.5,272.22 245.0,272.23 245.5,272.25 246.0,272.26 246.5,272.27 247.0,272.28 247.5,272.29 248.0,272.30 248.5,272.31 249.0,272.32 249.5,272.33 250.0,272.34 250.5,272.35 251.0,272.35 251.5,272.36 252.0,272.36 252.5,272.37 253.0,272.37 253.5,272.38 254.0,272.38 254.5,272.39 255.0,272.39 255.5,272.40 256.0,272.40 256.5,272.40 257.0,272.40 257.5,272.41 258.0,272.41 258.5,272.41 259.0,272.41 259.5,272.42 260.0,272.42 260.5,272.42 261.0,272.42 261.5,272.42 262.0,272.43 262.5,272.43 263.0,272.43 263.5,272.43 264.0,272.43 264.5,272.43 265.0,272.43 265.5,272.43 266.0,272.43 266.5,272.44 267.0,272.44 267.5,272.44 268.0,272.44 268.5,272.44 269.0,272.44 269.5,272.44 270.0,272.44 270.5,272.44 271.0,272.44 271.5,272.44 272.0,272.44 272.5,272.44 273.0,272.44 273.5,272.44 274.0,272.44 274.5,272.44 275.0,272.44 275.5,272.44 276.0,272.44 276.5,272.44 277.0,272.44 277.5,272.44 278.0,272.44 278.5,272.44 279.0,272.44 279.5,272.44 280.0,272.45 280.5,272.45 281.0,272.45 281.5,272.45 282.0,272.45 282.5,272.45 283.0,272.45 283.5,272.45 284.0,272.45 284.5,272.45 285.0,272.45 285.5,272.45 286.0,272.45 286.5,272.45 287.0,272.45 287.5,272.45 288.0,272.45 288.5,272.45 289.0,272.45 289.5,272.45 290.0,272.45 290.5,272.45 291.0,272.45 291.5,272.45 292.0,272.45 292.5,272.45 293.0,272.45 293.5,272.45 294.0,272.45 294.5,272.45 295.0,272.45 295.5,272.45 296.0,272.45 296.5,272.45 297.0,272.45 297.5,272.45 298.0,272.45 298.5,272.45 299.0,272.45 299.5,272.45 300.0,272.45 300.5,272.45 301.0,272.45 301.5,272.45 302.0,272.45 302.5,272.45 303.0,272.45 303.5,272.45 304.0,272.45 304.5,272.45 305.0,272.45 305.5,272.45 306.0,272.45 306.5,272.45 307.0,272.45 307.5,272.45 308.0,272.45 308.5,272.45 309.0,272.45 309.5,272.45 310.0,272.45 310.5,272.45 311.0,272.45 311.5,272.45 312.0,272.45 312.5,272.45 313.0,272.45 313.5,272.45"/>
<polyline fill="none" stroke="#3953A4" stroke-width="1.75" stroke-linejoin="round" points="46.0,162.34 46.5,162.34 47.0,162.34 47.5,162.34 48.0,162.34 48.5,162.34 49.0,162.34 49.5,162.34 50.0,162.34 50.5,162.34 51.0,162.34 51.5,162.34 52.0,162.34 52.5,162.34 53.0,162.34 53.5,162.34 54.0,162.34 54.5,162.34 55.0,162.34 55.5,162.34 56.0,162.34 56.5,162.34 57.0,162.34 57.5,162.34 58.0,162.34 58.5,162.34 59.0,162.34 59.5,162.34 60.0,162.34 60.5,162.34 61.0,162.34 61.5,162.34 62.0,162.34 62.5,162.34 63.0,162.34 63.5,162.34 64.0,162.34 64.5,162.34 65.0,162.34 65.5,162.34 66.0,162.34 66.5,162.34 67.0,162.34 67.5,162.34 68.0,162.34 68.5,162.34 69.0,162.34 69.5,162.34 70.0,162.34 70.5,162.34 71.0,162.34 71.5,162.34 72.0,162.34 72.5,162.34 73.0,162.34 73.5,162.34 74.0,162.34 74.5,162.34 75.0,162.34 75.5,162.34 76.0,162.34 76.5,162.34 77.0,162.34 77.5,162.34 78.0,162.34 78.5,162.34 79.0,162.34 79.5,162.34 80.0,162.34 80.5,162.34 81.0,162.34 81.5,162.34 82.0,162.34 82.5,162.34 83.0,162.34 83.5,162.34 84.0,162.34 84.5,162.34 85.0,162.34 85.5,162.34 86.0,162.34 86.5,162.34 87.0,162.34 87.5,162.34 88.0,162.34 88.5,162.34 89.0,162.34 89.5,162.34 90.0,162.34 90.5,162.34 91.0,162.34 91.5,162.34 92.0,162.34 92.5,162.34 93.0,162.34 93.5,162.34 94.0,162.34 94.5,162.34 95.0,162.34 95.5,162.34 96.0,162.34 96.5,162.34 97.0,162.34 97.5,162.34 98.0,162.34 98.5,162.34 99.0,162.34 99.5,162.34 100.0,162.34 100.5,162.34 101.0,162.34 101.5,162.34 102.0,162.34 102.5,162.34 103.0,162.34 103.5,162.34 104.0,162.34 104.5,162.34 105.0,162.34 105.5,162.34 106.0,162.34 106.5,162.34 107.0,162.34 107.5,162.34 108.0,162.34 108.5,162.34 109.0,162.34 109.5,162.34 110.0,162.34 110.5,162.34 111.0,162.34 111.5,162.34 112.0,162.34 112.5,162.34 113.0,162.34 113.5,162.34 114.0,162.34 114.5,162.34 115.0,162.34 115.5,162.34 116.0,162.34 116.5,162.34 117.0,162.34 117.5,162.34 118.0,162.34 118.5,162.34 119.0,162.34 119.5,162.34 120.0,162.34 120.5,162.34 121.0,162.34 121.5,162.34 122.0,162.34 122.5,162.34 123.0,162.34 123.5,162.34 124.0,162.34 124.5,162.34 125.0,162.35 125.5,162.35 126.0,162.35 126.5,162.35 127.0,162.35 127.5,162.35 128.0,162.35 128.5,162.35 129.0,162.35 129.5,162.35 130.0,162.35 130.5,162.36 131.0,162.36 131.5,162.36 132.0,162.36 132.5,162.36 133.0,162.36 133.5,162.37 134.0,162.37 134.5,162.37 135.0,162.37 135.5,162.37 136.0,162.38 136.5,162.38 137.0,162.38 137.5,162.39 138.0,162.39 138.5,162.39 139.0,162.40 139.5,162.40 140.0,162.41 140.5,162.41 141.0,162.42 141.5,162.42 142.0,162.43 142.5,162.44 143.0,162.44 143.5,162.45 144.0,162.46 144.5,162.47 145.0,162.48 145.5,162.49 146.0,162.50 146.5,162.51 147.0,162.52 147.5,162.53 148.0,162.55 148.5,162.56 149.0,162.58 149.5,162.60 150.0,162.61 150.5,162.63 151.0,162.66 151.5,162.68 152.0,162.70 152.5,162.73 153.0,162.76 153.5,162.79 154.0,162.82 154.5,162.85 155.0,162.89 155.5,162.93 156.0,162.97 156.5,163.01 157.0,163.06 157.5,163.11 158.0,163.17 158.5,163.23 159.0,163.29 159.5,163.36 160.0,163.43 160.5,163.51 161.0,163.59 161.5,163.68 162.0,163.77 162.5,163.87 163.0,163.98 163.5,164.09 164.0,164.21 164.5,164.35 165.0,164.49 165.5,164.64 166.0,164.80 166.5,164.97 167.0,165.15 167.5,165.34 168.0,165.55 168.5,165.77 169.0,166.01 169.5,166.26 170.0,166.53 170.5,166.82 171.0,167.12 171.5,167.45 172.0,167.79 172.5,168.16 173.0,168.55 173.5,168.97 174.0,169.41 174.5,169.88 175.0,170.38 175.5,170.91 176.0,171.47 176.5,172.06 177.0,172.69 177.5,173.35 178.0,174.06 178.5,174.80 179.0,175.58 179.5,176.41 180.0,177.27 180.5,178.19 181.0,179.15 181.5,180.16 182.0,181.21 182.5,182.32 183.0,183.48 183.5,184.69 184.0,185.95 184.5,187.26 185.0,188.62 185.5,190.04 186.0,191.50 186.5,193.02 187.0,194.59 187.5,196.20 188.0,197.86 188.5,199.56 189.0,201.30 189.5,203.08 190.0,204.90 190.5,206.75 191.0,208.63 191.5,210.53 192.0,212.45 192.5,214.39 193.0,216.34 193.5,218.30 194.0,220.26 194.5,222.22 195.0,224.17 195.5,226.12 196.0,228.04 196.5,229.95 197.0,231.83 197.5,233.69 198.0,235.51 198.5,237.30 199.0,239.05 199.5,240.76 200.0,242.43 200.5,244.05 201.0,245.62 201.5,247.15 202.0,248.63 202.5,250.05 203.0,251.43 203.5,252.75 204.0,254.02 204.5,255.24 205.0,256.41 205.5,257.52 206.0,258.59 206.5,259.61 207.0,260.58 207.5,261.50 208.0,262.38 208.5,263.21 209.0,264.00 209.5,264.75 210.0,265.46 210.5,266.14 211.0,266.77 211.5,267.37 212.0,267.94 212.5,268.47 213.0,268.98 213.5,269.45 214.0,269.90 214.5,270.32 215.0,270.72 215.5,271.09 216.0,271.44 216.5,271.77 217.0,272.08 217.5,272.37 218.0,272.64 218.5,272.90 219.0,273.14 219.5,273.36 220.0,273.57 220.5,273.77 221.0,273.95 221.5,274.13 222.0,274.29 222.5,274.44 223.0,274.58 223.5,274.71 224.0,274.84 224.5,274.96 225.0,275.06 225.5,275.17 226.0,275.26 226.5,275.35 227.0,275.43 227.5,275.51 228.0,275.58 228.5,275.65 229.0,275.72 229.5,275.78 230.0,275.83 230.5,275.88 231.0,275.93 231.5,275.98 232.0,276.02 232.5,276.06 233.0,276.10 233.5,276.13 234.0,276.16 234.5,276.19 235.0,276.22 235.5,276.25 236.0,276.27 236.5,276.29 237.0,276.32 237.5,276.34 238.0,276.36 238.5,276.37 239.0,276.39 239.5,276.40 240.0,276.42 240.5,276.43 241.0,276.44 241.5,276.46 242.0,276.47 242.5,276.48 243.0,276.49 243.5,276.49 244.0,276.50 244.5,276.51 245.0,276.52 245.5,276.52 246.0,276.53 246.5,276.54 247.0,276.54 247.5,276.55 248.0,276.55 248.5,276.56 249.0,276.56 249.5,276.56 250.0,276.57 250.5,276.57 251.0,276.57 251.5,276.58 252.0,276.58 252.5,276.58 253.0,276.59 253.5,276.59 254.0,276.59 254.5,276.59 255.0,276.59 255.5,276.60 256.0,276.60 256.5,276.60 257.0,276.60 257.5,276.60 258.0,276.60 258.5,276.60 259.0,276.60 259.5,276.61 260.0,276.61 260.5,276.61 261.0,276.61 261.5,276.61 262.0,276.61 262.5,276.61 263.0,276.61 263.5,276.61 264.0,276.61 264.5,276.61 265.0,276.61 265.5,276.61 266.0,276.61 266.5,276.61 267.0,276.61 267.5,276.61 268.0,276.61 268.5,276.61 269.0,276.62 269.5,276.62 270.0,276.62 270.5,276.62 271.0,276.62 271.5,276.62 272.0,276.62 272.5,276.62 273.0,276.62 273.5,276.62 274.0,276.62 274.5,276.62 275.0,276.62 275.5,276.62 276.0,276.62 276.5,276.62 277.0,276.62 277.5,276.62 278.0,276.62 278.5,276.62 279.0,276.62 279.5,276.62 280.0,276.62 280.5,276.62 281.0,276.62 281.5,276.62 282.0,276.62 282.5,276.62 283.0,276.62 283.5,276.62 284.0,276.62 284.5,276.62 285.0,276.62 285.5,276.62 286.0,276.62 286.5,276.62 287.0,276.62 287.5,276.62 288.0,276.62 288.5,276.62 289.0,276.62 289.5,276.62 290.0,276.62 290.5,276.62 291.0,276.62 291.5,276.62 292.0,276.62 292.5,276.62 293.0,276.62 293.5,276.62 294.0,276.62 294.5,276.62 295.0,276.62 295.5,276.62 296.0,276.62 296.5,276.62 297.0,276.62 297.5,276.62 298.0,276.62 298.5,276.62 299.0,276.62 299.5,276.62 300.0,276.62 300.5,276.62 301.0,276.62 301.5,276.62 302.0,276.62 302.5,276.62 303.0,276.62 303.5,276.62 304.0,276.62 304.5,276.62 305.0,276.62 305.5,276.62 306.0,276.62 306.5,276.62 307.0,276.62 307.5,276.62 308.0,276.62 308.5,276.62 309.0,276.62 309.5,276.62 310.0,276.62 310.5,276.62 311.0,276.62 311.5,276.62 312.0,276.62 312.5,276.62 313.0,276.62 313.5,276.62"/>
<polyline fill="none" stroke="#808285" stroke-width="1.75" stroke-linejoin="round" points="46.0,167.25 46.5,167.25 47.0,167.25 47.5,167.25 48.0,167.25 48.5,167.25 49.0,167.25 49.5,167.25 50.0,167.25 50.5,167.25 51.0,167.25 51.5,167.25 52.0,167.25 52.5,167.25 53.0,167.25 53.5,167.25 54.0,167.25 54.5,167.25 55.0,167.25 55.5,167.25 56.0,167.25 56.5,167.25 57.0,167.25 57.5,167.25 58.0,167.25 58.5,167.25 59.0,167.25 59.5,167.25 60.0,167.25 60.5,167.25 61.0,167.25 61.5,167.25 62.0,167.25 62.5,167.25 63.0,167.25 63.5,167.25 64.0,167.25 64.5,167.25 65.0,167.25 65.5,167.25 66.0,167.25 66.5,167.25 67.0,167.25 67.5,167.25 68.0,167.25 68.5,167.25 69.0,167.25 69.5,167.25 70.0,167.25 70.5,167.25 71.0,167.25 71.5,167.25 72.0,167.25 72.5,167.25 73.0,167.25 73.5,167.25 74.0,167.25 74.5,167.25 75.0,167.25 75.5,167.25 76.0,167.25 76.5,167.25 77.0,167.25 77.5,167.25 78.0,167.25 78.5,167.25 79.0,167.25 79.5,167.25 80.0,167.25 80.5,167.25 81.0,167.25 81.5,167.25 82.0,167.25 82.5,167.25 83.0,167.25 83.5,167.25 84.0,167.25 84.5,167.25 85.0,167.25 85.5,167.25 86.0,167.25 86.5,167.25 87.0,167.25 87.5,167.25 88.0,167.25 88.5,167.25 89.0,167.25 89.5,167.25 90.0,167.25 90.5,167.25 91.0,167.25 91.5,167.25 92.0,167.25 92.5,167.25 93.0,167.26 93.5,167.26 94.0,167.26 94.5,167.26 95.0,167.26 95.5,167.26 96.0,167.26 96.5,167.26 97.0,167.26 97.5,167.26 98.0,167.26 98.5,167.26 99.0,167.26 99.5,167.26 100.0,167.26 100.5,167.26 101.0,167.26 101.5,167.26 102.0,167.26 102.5,167.26 103.0,167.26 103.5,167.26 104.0,167.26 104.5,167.26 105.0,167.26 105.5,167.26 106.0,167.26 106.5,167.26 107.0,167.26 107.5,167.26 108.0,167.26 108.5,167.26 109.0,167.26 109.5,167.26 110.0,167.26 110.5,167.26 111.0,167.26 111.5,167.26 112.0,167.26 112.5,167.26 113.0,167.26 113.5,167.26 114.0,167.26 114.5,167.26 115.0,167.26 115.5,167.26 116.0,167.27 116.5,167.27 117.0,167.27 117.5,167.27 118.0,167.27 118.5,167.27 119.0,167.27 119.5,167.27 120.0,167.27 120.5,167.27 121.0,167.27 121.5,167.27 122.0,167.27 122.5,167.27 123.0,167.27 123.5,167.27 124.0,167.28 124.5,167.28 125.0,167.28 125.5,167.28 126.0,167.28 126.5,167.28 127.0,167.28 127.5,167.28 128.0,167.28 128.5,167.28 129.0,167.29 129.5,167.29 130.0,167.29 130.5,167.29 131.0,167.29 131.5,167.29 132.0,167.29 132.5,167.30 133.0,167.30 133.5,167.30 134.0,167.30 134.5,167.30 135.0,167.31 135.5,167.31 136.0,167.31 136.5,167.31 137.0,167.31 137.5,167.32 138.0,167.32 138.5,167.32 139.0,167.32 139.5,167.33 140.0,167.33 140.5,167.33 141.0,167.34 141.5,167.34 142.0,167.34 142.5,167.35 143.0,167.35 143.5,167.35 144.0,167.36 144.5,167.36 145.0,167.37 145.5,167.37 146.0,167.38 146.5,167.38 147.0,167.39 147.5,167.39 148.0,167.40 148.5,167.40 149.0,167.41 149.5,167.42 150.0,167.42 150.5,167.43 151.0,167.44 151.5,167.44 152.0,167.45 152.5,167.46 153.0,167.47 153.5,167.47 154.0,167.48 154.5,167.49 155.0,167.50 155.5,167.51 156.0,167.52 156.5,167.53 157.0,167.54 157.5,167.55 158.0,167.57 158.5,167.58 159.0,167.59 159.5,167.60 160.0,167.62 160.5,167.63 161.0,167.65 161.5,167.66 162.0,167.68 162.5,167.70 163.0,167.71 163.5,167.73 164.0,167.75 164.5,167.77 165.0,167.79 165.5,167.81 166.0,167.83 166.5,167.86 167.0,167.88 167.5,167.90 168.0,167.93 168.5,167.96 169.0,167.98 169.5,168.01 170.0,168.04 170.5,168.07 171.0,168.10 171.5,168.14 172.0,168.17 172.5,168.21 173.0,168.25 173.5,168.28 174.0,168.33 174.5,168.37 175.0,168.41 175.5,168.46 176.0,168.50 176.5,168.55 177.0,168.60 177.5,168.65 178.0,168.71 178.5,168.77 179.0,168.82 179.5,168.89 180.0,168.95 180.5,169.01 181.0,169.08 181.5,169.15 182.0,169.23 182.5,169.30 183.0,169.38 183.5,169.47 184.0,169.55 184.5,169.64 185.0,169.73 185.5,169.83 186.0,169.93 186.5,170.03 187.0,170.13 187.5,170.25 188.0,170.36 188.5,170.48 189.0,170.60 189.5,170.73 190.0,170.86 190.5,171.00 191.0,171.14 191.5,171.29 192.0,171.44 192.5,171.60 193.0,171.76 193.5,171.93 194.0,172.11 194.5,172.29 195.0,172.48 195.5,172.68 196.0,172.88 196.5,173.09 197.0,173.30 197.5,173.53 198.0,173.76 198.5,174.00 199.0,174.25 199.5,174.50 200.0,174.77 200.5,175.04 201.0,175.33 201.5,175.62 202.0,175.92 202.5,176.23 203.0,176.55 203.5,176.89 204.0,177.23 204.5,177.58 205.0,177.95 205.5,178.32 206.0,178.71 206.5,179.11 207.0,179.52 207.5,179.94 208.0,180.38 208.5,180.83 209.0,181.29 209.5,181.77 210.0,182.25 210.5,182.75 211.0,183.27 211.5,183.80 212.0,184.34 212.5,184.90 213.0,185.47 213.5,186.05 214.0,186.65 214.5,187.27 215.0,187.89 215.5,188.54 216.0,189.20 216.5,189.87 217.0,190.55 217.5,191.25 218.0,191.97 218.5,192.70 219.0,193.44 219.5,194.20 220.0,194.97 220.5,195.76 221.0,196.56 221.5,197.37 222.0,198.19 222.5,199.03 223.0,199.88 223.5,200.74 224.0,201.61 224.5,202.49 225.0,203.38 225.5,204.28 226.0,205.20 226.5,206.12 227.0,207.05 227.5,207.98 228.0,208.92 228.5,209.87 229.0,210.83 229.5,211.79 230.0,212.75 230.5,213.72 231.0,214.69 231.5,215.67 232.0,216.64 232.5,217.62 233.0,218.59 233.5,219.56 234.0,220.54 234.5,221.51 235.0,222.48 235.5,223.44 236.0,224.40 236.5,225.36 237.0,226.31 237.5,227.25 238.0,228.18 238.5,229.11 239.0,230.03 239.5,230.95 240.0,231.85 240.5,232.74 241.0,233.62 241.5,234.49 242.0,235.35 242.5,236.20 243.0,237.04 243.5,237.86 244.0,238.67 244.5,239.47 245.0,240.26 245.5,241.03 246.0,241.79 246.5,242.53 247.0,243.26 247.5,243.98 248.0,244.68 248.5,245.36 249.0,246.03 249.5,246.69 250.0,247.34 250.5,247.96 251.0,248.58 251.5,249.18 252.0,249.76 252.5,250.33 253.0,250.89 253.5,251.43 254.0,251.96 254.5,252.48 255.0,252.98 255.5,253.46 256.0,253.94 256.5,254.40 257.0,254.85 257.5,255.29 258.0,255.71 258.5,256.12 259.0,256.52 259.5,256.91 260.0,257.28 260.5,257.65 261.0,258.00 261.5,258.34 262.0,258.68 262.5,259.00 263.0,259.31 263.5,259.61 264.0,259.90 264.5,260.19 265.0,260.46 265.5,260.73 266.0,260.98 266.5,261.23 267.0,261.47 267.5,261.70 268.0,261.93 268.5,262.14 269.0,262.35 269.5,262.55 270.0,262.75 270.5,262.94 271.0,263.12 271.5,263.30 272.0,263.47 272.5,263.63 273.0,263.79 273.5,263.94 274.0,264.09 274.5,264.23 275.0,264.37 275.5,264.50 276.0,264.63 276.5,264.75 277.0,264.87 277.5,264.98 278.0,265.10 278.5,265.20 279.0,265.30 279.5,265.40 280.0,265.50 280.5,265.59 281.0,265.68 281.5,265.76 282.0,265.85 282.5,265.93 283.0,266.00 283.5,266.08 284.0,266.15 284.5,266.22 285.0,266.28 285.5,266.34 286.0,266.41 286.5,266.46 287.0,266.52 287.5,266.58 288.0,266.63 288.5,266.68 289.0,266.73 289.5,266.77 290.0,266.82 290.5,266.86 291.0,266.90 291.5,266.95 292.0,266.98 292.5,267.02 293.0,267.06 293.5,267.09 294.0,267.13 294.5,267.16 295.0,267.19 295.5,267.22 296.0,267.25 296.5,267.27 297.0,267.30 297.5,267.33 298.0,267.35 298.5,267.37 299.0,267.40 299.5,267.42 300.0,267.44 300.5,267.46 301.0,267.48 301.5,267.50 302.0,267.52 302.5,267.53 303.0,267.55 303.5,267.57 304.0,267.58 304.5,267.60 305.0,267.61 305.5,267.63 306.0,267.64 306.5,267.65 307.0,267.66 307.5,267.68 308.0,267.69 308.5,267.70 309.0,267.71 309.5,267.72 310.0,267.73 310.5,267.74 311.0,267.75 311.5,267.76 312.0,267.76 312.5,267.77 313.0,267.78 313.5,267.79"/>
<path d="M45.6,137.5 V317.7 M44.6,316.7 H314.7" stroke="#2e2e30" stroke-width="2.2" fill="none"/>
<line x1="41" x2="45.6" y1="316.7" y2="316.7" stroke="#2e2e30" stroke-width="1.6"/>
<text class="b" transform="translate(39,321.1) scale(.89,1)" font-size="12.2" text-anchor="end">0</text>
<line x1="41" x2="45.6" y1="279.4" y2="279.4" stroke="#2e2e30" stroke-width="1.6"/>
<text class="b" transform="translate(39,283.8) scale(.89,1)" font-size="12.2" text-anchor="end">25</text>
<line x1="41" x2="45.6" y1="242.2" y2="242.2" stroke="#2e2e30" stroke-width="1.6"/>
<text class="b" transform="translate(39,246.6) scale(.89,1)" font-size="12.2" text-anchor="end">50</text>
<line x1="41" x2="45.6" y1="204.9" y2="204.9" stroke="#2e2e30" stroke-width="1.6"/>
<text class="b" transform="translate(39,209.3) scale(.89,1)" font-size="12.2" text-anchor="end">75</text>
<line x1="41" x2="45.6" y1="167.7" y2="167.7" stroke="#2e2e30" stroke-width="1.6"/>
<text class="b" transform="translate(39,172.1) scale(.89,1)" font-size="12.2" text-anchor="end">100</text>
<line x1="46.0" x2="46.0" y1="316.7" y2="320.5" stroke="#2e2e30" stroke-width="1.6"/>
<text class="b" transform="translate(42.0,334.4) scale(.93,1)" font-size="12.2" text-anchor="middle">0.01</text>
<line x1="99.5" x2="99.5" y1="316.7" y2="320.5" stroke="#2e2e30" stroke-width="1.6"/>
<text class="b" transform="translate(99.5,334.4) scale(.93,1)" font-size="12.2" text-anchor="middle">0.1</text>
<line x1="153.0" x2="153.0" y1="316.7" y2="320.5" stroke="#2e2e30" stroke-width="1.6"/>
<text class="b" transform="translate(153.0,334.4) scale(.93,1)" font-size="12.2" text-anchor="middle">1</text>
<line x1="206.5" x2="206.5" y1="316.7" y2="320.5" stroke="#2e2e30" stroke-width="1.6"/>
<text class="b" transform="translate(206.5,334.4) scale(.93,1)" font-size="12.2" text-anchor="middle">10</text>
<line x1="260.0" x2="260.0" y1="316.7" y2="320.5" stroke="#2e2e30" stroke-width="1.6"/>
<text class="b" transform="translate(260.0,334.4) scale(.93,1)" font-size="12.2" text-anchor="middle">100</text>
<line x1="313.5" x2="313.5" y1="316.7" y2="320.5" stroke="#2e2e30" stroke-width="1.6"/>
<text class="b" transform="translate(315.5,334.4) scale(.93,1)" font-size="12.2" text-anchor="middle">1,000</text>
<text class="r" x="184.5" y="351.4" font-size="12" text-anchor="middle" textLength="123" lengthAdjust="spacingAndGlyphs">Concentration (ng/mL)</text>
<text class="r" transform="translate(17,234.7) rotate(-90)" font-size="12" text-anchor="middle" textLength="48.6" lengthAdjust="spacingAndGlyphs">% Viable</text>
<line x1="324.8" x2="339.2" y1="197.5" y2="197.5" stroke="#ED1C24" stroke-width="1.7"/>
<line x1="324.8" x2="339.2" y1="213.9" y2="213.9" stroke="#ED1C24" stroke-width="1.7"/>
<line x1="324.8" x2="339.2" y1="230.4" y2="230.4" stroke="#ED1C24" stroke-width="1.7"/>
<line x1="324.8" x2="339.2" y1="246.9" y2="246.9" stroke="#3953A4" stroke-width="1.7"/>
<line x1="324.8" x2="339.2" y1="263.3" y2="263.3" stroke="#808285" stroke-width="1.7"/>
<circle cx="331.9" cy="197.5" r="5.1" fill="#ED1C24"/>
<circle cx="331.9" cy="213.9" r="4.3" fill="#fff" stroke="#ED1C24" stroke-width="1.6"/>
<path d="M327.6,213.9 a4.3,4.3 0 0 1 8.6,0 z" fill="#ED1C24"/>
<circle cx="331.9" cy="230.4" r="4.3" fill="none" stroke="#ED1C24" stroke-width="1.6"/>
<rect x="327.0" y="242.0" width="9.8" height="9.8" fill="#3953A4"/>
<rect x="327.0" y="258.4" width="9.8" height="9.8" fill="#808285"/>
<text class="r" x="347.5" y="201.6" font-size="11.6" textLength="98" lengthAdjust="spacingAndGlyphs">cAC10-vcMMAE (8)</text>
<text class="r" transform="translate(463.3,201.6) scale(.95,1)" font-size="11.6" text-anchor="middle">2</text>
<text class="r" x="347.5" y="218.0" font-size="11.6" textLength="98" lengthAdjust="spacingAndGlyphs">cAC10-vcMMAE (4)</text>
<text class="r" transform="translate(463.3,218.0) scale(.95,1)" font-size="11.6" text-anchor="middle">4</text>
<text class="r" x="347.5" y="234.5" font-size="11.6" textLength="98" lengthAdjust="spacingAndGlyphs">cAC10-vcMMAE (2)</text>
<text class="r" transform="translate(462.3,234.5) scale(.95,1)" font-size="11.6" text-anchor="middle">10</text>
<text class="r" x="347.5" y="251.0" font-size="11.6" textLength="99.5" lengthAdjust="spacingAndGlyphs">cOKT9-vcMMAE (4)</text>
<text class="r" transform="translate(464.6,251.0) scale(.95,1)" font-size="11.6" text-anchor="middle">8</text>
<text class="r" x="347.5" y="267.4" font-size="11.6" textLength="90.2" lengthAdjust="spacingAndGlyphs">h1F6-vcMMAE (4)</text>
<text class="r" transform="translate(463,267.4) scale(.95,1)" font-size="11.6" text-anchor="middle">55</text>
<text class="r" x="457" y="187.9" font-size="11.6" textLength="61" lengthAdjust="spacingAndGlyphs">IC<tspan font-size="8.5" dy="3">50</tspan><tspan dy="-3"> (ng/mL)</tspan></text>
<text class="b" x="9.4" y="377.9" font-size="17">C</text>
<path d="M80.5,470.6 V441.5 M70.8,441.5 H90.3" stroke="#ED1C24" stroke-width="1.9" fill="none"/>
<path d="M61.30,582.20 V470.60 H99.80 V582.20" fill="#fff" stroke="#ED1C24" stroke-width="2.1"/>
<path d="M137.6,447.7 V444.4 M127.8,444.4 H147.4" stroke="#ED1C24" stroke-width="1.9" fill="none"/>
<path d="M118.20,582.20 V447.70 H156.90 V582.20" fill="url(#h)" stroke="#ED1C24" stroke-width="2.1"/>
<path d="M195.2,487.5 V468.0 M185.4,468.0 H205.1" stroke="#ED1C24" stroke-width="1.9" fill="none"/>
<rect x="175.50" y="487.50" width="39.50" height="94.70" fill="#ED1C24"/>
<path d="M252.2,456.8 V412.0 M242.4,412.0 H262.1" stroke="#3953A4" stroke-width="1.9" fill="none"/>
<rect x="232.00" y="456.75" width="40.50" height="125.45" fill="#3953A4"/>
<path d="M309.8,429.0 V426.0 M299.9,426.0 H319.6" stroke="#58595B" stroke-width="1.9" fill="none"/>
<rect x="289.50" y="429.00" width="40.50" height="153.20" fill="#58595B"/>
<path d="M52.1,390.3 V582.9 M51.4,582.2 H339.2" stroke="#1c1a1b" stroke-width="1.5" fill="none"/>
<line x1="47.7" x2="52.1" y1="582.2" y2="582.2" stroke="#1c1a1b" stroke-width="1.4"/>
<text class="r" x="44.8" y="587.8" font-size="11.6" text-anchor="end">0</text>
<line x1="47.7" x2="52.1" y1="534.2" y2="534.2" stroke="#1c1a1b" stroke-width="1.4"/>
<text class="r" x="44.8" y="539.9" font-size="11.6" text-anchor="end">50</text>
<line x1="47.7" x2="52.1" y1="486.3" y2="486.3" stroke="#1c1a1b" stroke-width="1.4"/>
<text class="r" x="44.8" y="491.9" font-size="11.6" text-anchor="end">100</text>
<line x1="47.7" x2="52.1" y1="438.4" y2="438.4" stroke="#1c1a1b" stroke-width="1.4"/>
<text class="r" x="44.8" y="444.0" font-size="11.6" text-anchor="end">150</text>
<line x1="47.7" x2="52.1" y1="391.1" y2="391.1" stroke="#1c1a1b" stroke-width="1.4"/>
<text class="r" x="44.8" y="396.0" font-size="11.6" text-anchor="end">200</text>
<line x1="80.5" x2="80.5" y1="582.2" y2="586" stroke="#1c1a1b" stroke-width="1.4"/>
<text class="r" transform="translate(80.0,603.4) scale(1.1,1)" font-size="12.2" text-anchor="middle">cAC10</text>
<text class="r" transform="translate(80.0,622.5) scale(1.1,1)" font-size="12.2" text-anchor="middle">2</text>
<line x1="137.6" x2="137.6" y1="582.2" y2="586" stroke="#1c1a1b" stroke-width="1.4"/>
<text class="r" transform="translate(137.0,603.4) scale(1.1,1)" font-size="12.2" text-anchor="middle">cAC10</text>
<text class="r" transform="translate(137.0,622.5) scale(1.1,1)" font-size="12.2" text-anchor="middle">4</text>
<line x1="195.2" x2="195.2" y1="582.2" y2="586" stroke="#1c1a1b" stroke-width="1.4"/>
<text class="r" transform="translate(194.7,603.4) scale(1.1,1)" font-size="12.2" text-anchor="middle">cAC10</text>
<text class="r" transform="translate(194.7,622.5) scale(1.1,1)" font-size="12.2" text-anchor="middle">8</text>
<line x1="252.2" x2="252.2" y1="582.2" y2="586" stroke="#1c1a1b" stroke-width="1.4"/>
<text class="r" transform="translate(251.7,603.4) scale(1.1,1)" font-size="12.2" text-anchor="middle">cOKT9</text>
<text class="r" transform="translate(251.7,622.5) scale(1.1,1)" font-size="12.2" text-anchor="middle">4</text>
<line x1="309.8" x2="309.8" y1="582.2" y2="586" stroke="#1c1a1b" stroke-width="1.4"/>
<text class="r" transform="translate(309.1,603.4) scale(1.1,1)" font-size="12.2" text-anchor="middle">h1F6</text>
<text class="r" transform="translate(309.1,622.5) scale(1.1,1)" font-size="12.2" text-anchor="middle">4</text>
<text class="r" transform="translate(16.6,603.4) scale(1.1,1)" font-size="12.2">mAb</text>
<text class="r" transform="translate(16.2,622.5) scale(1.1,1)" font-size="12.2">DAR</text>
<text class="r" transform="translate(11.6,486) rotate(-90)" font-size="12.3" text-anchor="middle" textLength="92.8" lengthAdjust="spacingAndGlyphs">MMAE (nmol/L)</text>
</svg></body></html>
